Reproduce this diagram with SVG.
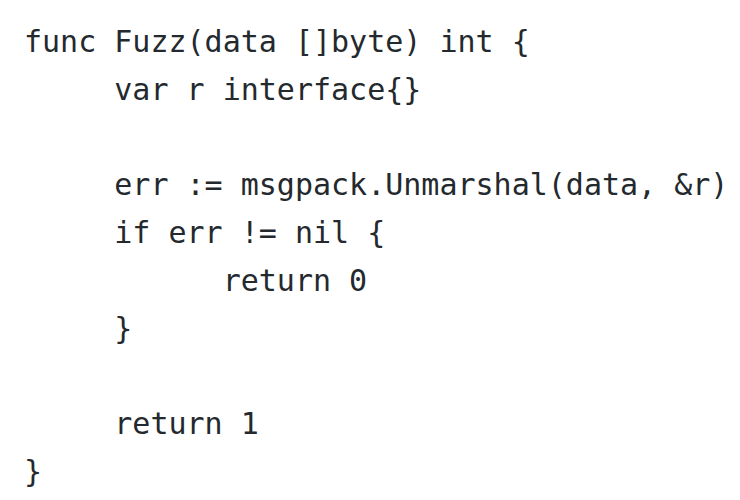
<svg xmlns="http://www.w3.org/2000/svg" width="740" height="500" viewBox="0 0 740 500">
<style>text{font-family:"DejaVu Sans Mono","Liberation Mono",monospace;font-size:30px;fill:#24292e;white-space:pre}</style>
<rect width="740" height="500" fill="#ffffff"/>
<g id="code">
<text x="24" y="52">func Fuzz(data []byte) int {</text>
<text x="24" y="100">     var r interface{}</text>
<text x="24" y="195">     err := msgpack.Unmarshal(data, &amp;r)</text>
<text x="24" y="243">     if err != nil {</text>
<text x="24" y="291">           return 0</text>
<text x="24" y="339">     }</text>
<text x="24" y="434">     return 1</text>
<text x="24" y="482">}</text>
</g>
</svg>
